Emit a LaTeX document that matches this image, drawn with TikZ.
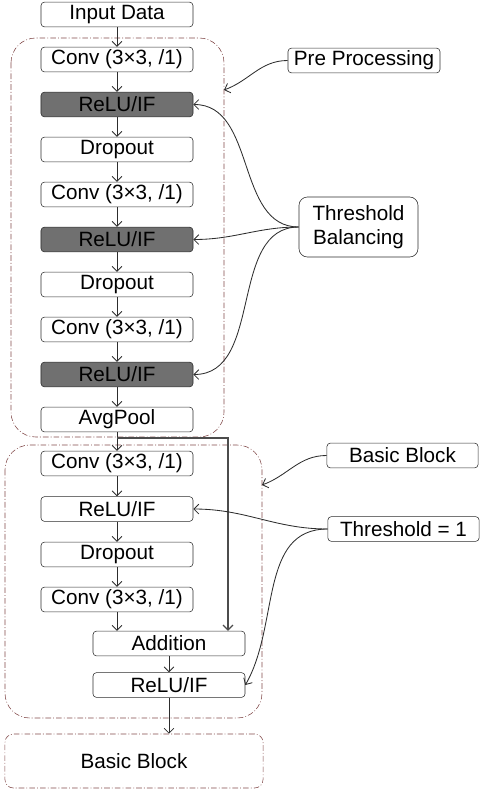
\documentclass[tikz,border=0pt]{standalone}
\usepackage{fontspec}
\setmainfont{Liberation Sans}
\usepackage{tikz}
\usetikzlibrary{arrows.meta}
\definecolor{frame}{RGB}{130,75,75}
\definecolor{dark}{RGB}{112,112,112}
\definecolor{edge}{RGB}{45,45,45}
\newcommand{\layerbox}[4][]{\node[layer,#1] (#2) at (#3) {#4};}
\tikzset{
  layer/.style={draw=edge, rounded corners=2.5pt, minimum width=3.8cm, minimum height=0.62cm,
    inner sep=0pt, font=\fontsize{14.7}{17}\selectfont},
  active/.style={fill=dark},
  dashdot/.style={draw=frame, thin, dash pattern=on 4pt off 1.5pt on 0.6pt off 1.5pt},
  group/.style={dashdot, rounded corners=0.62cm},
  link/.style={-{Straight Barb[length=3.5pt,width=7pt]}, edge, semithick},
}

\begin{document}
\begin{tikzpicture}[x=0.025cm, y=-0.025cm]
\useasboundingbox (0,0) rectangle (484,790);
% frames
\draw[group] (11,38) rectangle (224,437);
\draw[group] (5,445) rectangle (262,718);
\node[layer, dashdot, rounded corners=6pt, minimum width=6.45cm, minimum height=1.35cm] (next) at (134,761) {Basic Block};
\coordinate (preTip) at (224,90);
\coordinate (blockTip) at (262,485);
% main column
\layerbox{in}{117,14.5}{Input Data}
\layerbox{c1}{117,59.5}{Conv (3×3, /1)}
\layerbox[active]{r1}{117,104.5}{ReLU/IF}
\layerbox{d1}{117,149.5}{Dropout}
\layerbox{c2}{117,194.5}{Conv (3×3, /1)}
\layerbox[active]{r2}{117,239.5}{ReLU/IF}
\layerbox{d2}{117,284.5}{Dropout}
\layerbox{c3}{117,329.5}{Conv (3×3, /1)}
\layerbox[active]{r3}{117,374.5}{ReLU/IF}
\layerbox{ap}{117,419.5}{AvgPool}
\layerbox{c4}{117,463.5}{Conv (3×3, /1)}
\layerbox{r4}{117,509}{ReLU/IF}
\layerbox{d3}{117,554.5}{Dropout}
\layerbox{c5}{117,599.5}{Conv (3×3, /1)}
\layerbox{add}{169,643.5}{Addition}
\layerbox{r5}{169,685}{ReLU/IF}
\foreach \a/\b in {in/c1, c1/r1, r1/d1, d1/c2, c2/r2, r2/d2, d2/c3, c3/r3, r3/ap, ap/c4, c4/r4, r4/d3, d3/c5, add/r5}{
  \draw[link] (\a) -- (\b);
}
\draw[link] (c5) -- (c5 |- add.north);
\draw[link] (r5) -- (r5 |- next.north);
% shortcut
\coordinate (split) at (117,438);
\coordinate (skip) at (228,438);
\draw[link, draw=edge!85, thick] (split) -- (skip) -- (skip |- add.north);
% notes
\node[layer, minimum width=3.8cm] (pre) at (364,60.5) {Pre Processing};
\node[layer, rounded corners=6pt, align=center, minimum width=2.975cm, minimum height=1.5cm] (bal) at (358.5,227) {Threshold\\Balancing};
\node[layer, minimum width=3.78cm] (blk) at (402.5,455.5) {Basic Block};
\node[layer, minimum width=3.78cm] (one) at (403.5,529) {Threshold = 1};
\draw[link] (pre.west) to[out=180,in=20] (preTip);
\draw[link] (bal.west) to[out=180,in=0] (r1.east);
\draw[link] (bal.west) to[out=180,in=0] (r2.east);
\draw[link] (bal.west) to[out=180,in=0] (r3.east);
\draw[link] (blk.west) to[out=180,in=20] (blockTip);
\draw[link] (one.west) to[out=180,in=0] (r4.east);
\draw[link] (one.west) to[out=180,in=60] (r5.east);
\end{tikzpicture}
\end{document}
